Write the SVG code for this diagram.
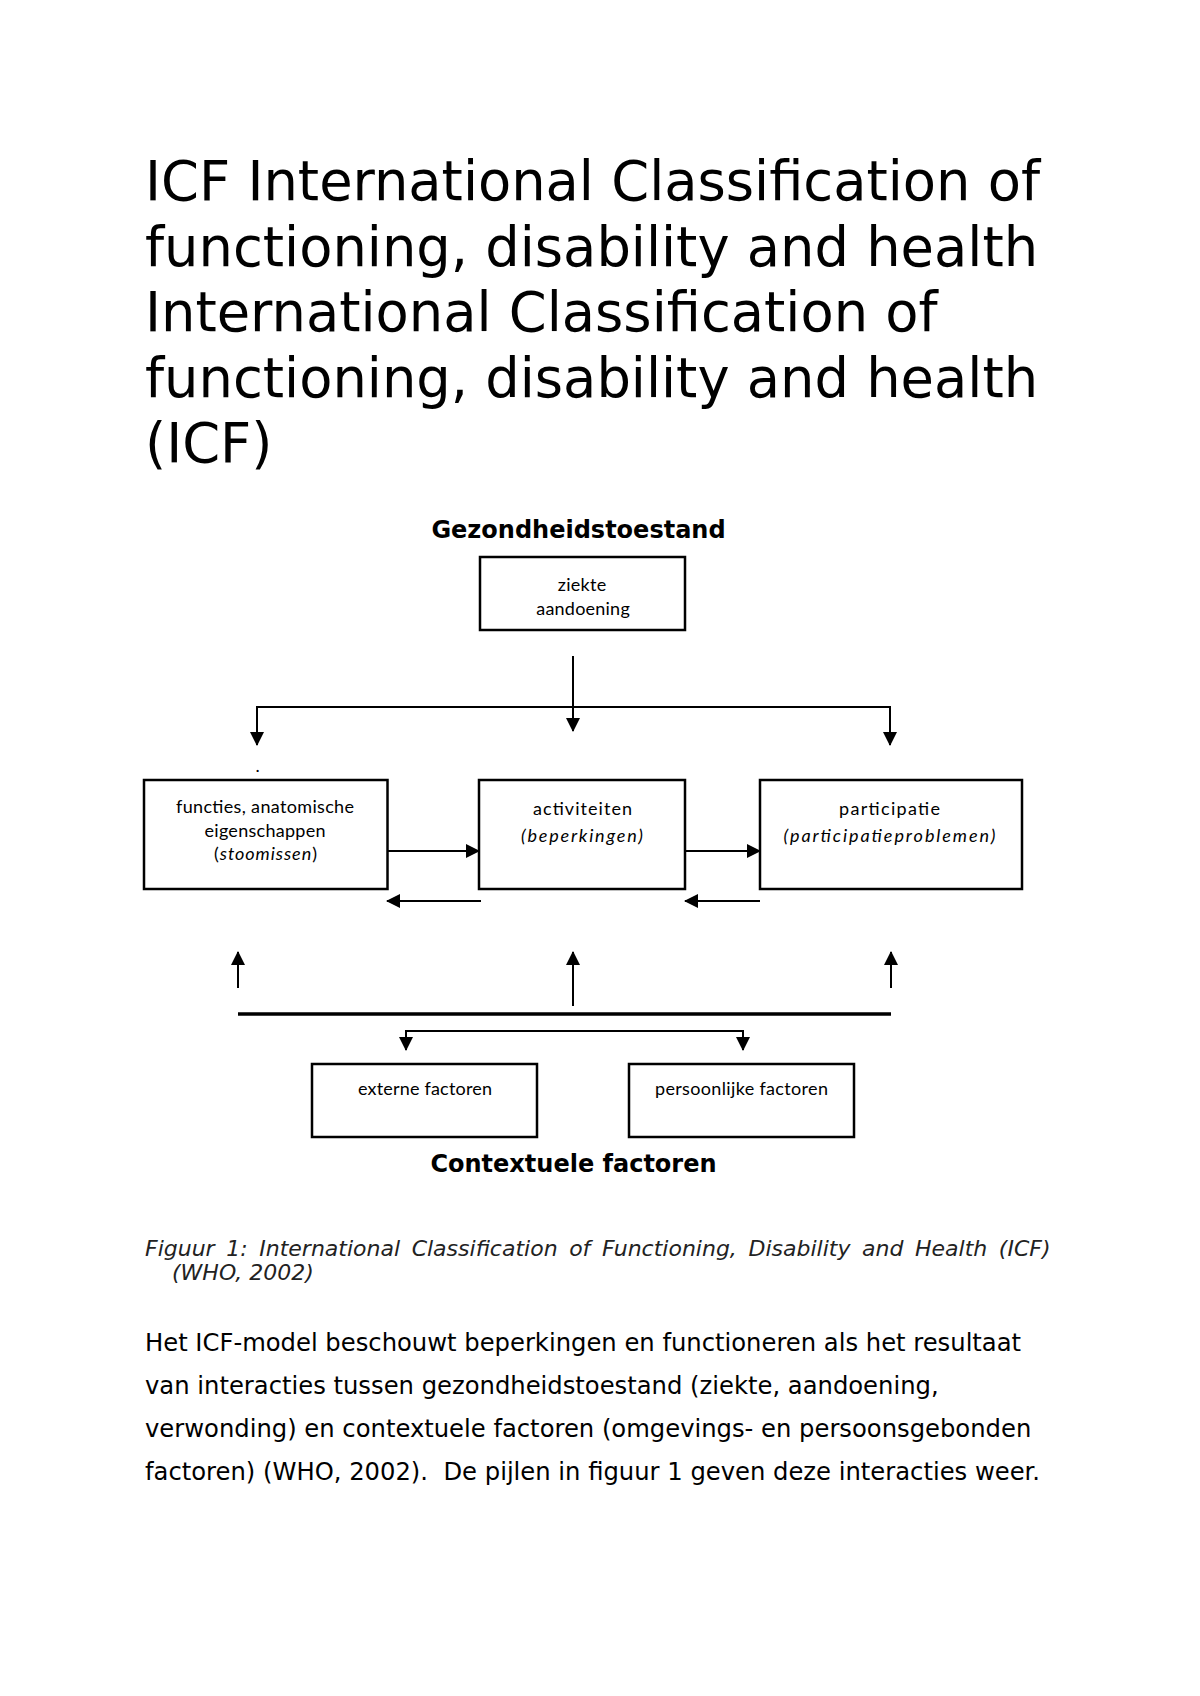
<svg xmlns="http://www.w3.org/2000/svg" width="1200" height="1696" viewBox="0 0 1200 1696">
<style>
.title{font-family:"DejaVu Sans",sans-serif;font-size:54.3px;fill:#000}
.head{font-family:"DejaVu Sans",sans-serif;font-weight:bold;font-size:24px;fill:#000;text-anchor:middle}
.box{fill:#fff;stroke:#000;stroke-width:2.5}
.lbl{font-family:Lato,"Liberation Sans",sans-serif;font-size:18px;fill:#000;text-anchor:middle}
.it{font-style:italic}
.ln{stroke:#000;stroke-width:2;fill:none}
.cap{font-family:"DejaVu Sans",sans-serif;font-style:italic;font-weight:200;font-size:22px;fill:#222}
.body{font-family:"DejaVu Sans",sans-serif;font-size:24.25px;fill:#000}
</style>
<defs>
<marker id="ah" viewBox="0 0 14 14" markerWidth="14" markerHeight="14" refX="13" refY="7" orient="auto" markerUnits="userSpaceOnUse">
<path d="M0,0 L14,7 L0,14 z" fill="#000"/>
</marker>
</defs>
<rect width="1200" height="1696" fill="#fff"/>
<g id="title">
<text class="title" x="145" y="200">ICF International Classification of</text>
<text class="title" x="145" y="265.5">functioning, disability and health</text>
<text class="title" x="145" y="331">International Classification of</text>
<text class="title" x="145" y="396.5">functioning, disability and health</text>
<text class="title" x="145" y="462">(ICF)</text>
</g>
<text class="head" x="578.5" y="537.5">Gezondheidstoestand</text>
<g id="connectors">
<line class="ln" x1="573" y1="656" x2="573" y2="731" marker-end="url(#ah)"/>
<line class="ln" x1="256" y1="707" x2="891" y2="707"/>
<line class="ln" x1="257" y1="707" x2="257" y2="745" marker-end="url(#ah)"/>
<line class="ln" x1="890" y1="707" x2="890" y2="745" marker-end="url(#ah)"/>
<line class="ln" x1="387" y1="851" x2="479" y2="851" marker-end="url(#ah)"/>
<line class="ln" x1="685" y1="851" x2="760" y2="851" marker-end="url(#ah)"/>
<line class="ln" x1="481" y1="901" x2="387" y2="901" marker-end="url(#ah)"/>
<line class="ln" x1="760" y1="901" x2="685" y2="901" marker-end="url(#ah)"/>
<line class="ln" x1="238" y1="988" x2="238" y2="952" marker-end="url(#ah)"/>
<line class="ln" x1="573" y1="1006" x2="573" y2="952" marker-end="url(#ah)"/>
<line class="ln" x1="891" y1="988" x2="891" y2="952" marker-end="url(#ah)"/>
<line x1="238" y1="1014" x2="891" y2="1014" stroke="#000" stroke-width="3.5"/>
<line class="ln" x1="405" y1="1031" x2="744" y2="1031"/>
<line class="ln" x1="406" y1="1031" x2="406" y2="1050" marker-end="url(#ah)"/>
<line class="ln" x1="743" y1="1031" x2="743" y2="1050" marker-end="url(#ah)"/>
</g>
<text class="lbl" x="257.5" y="772" font-size="14">.</text>
<g id="ziekte">
<rect class="box" x="480" y="557" width="205" height="73"/>
<text class="lbl" x="582" y="591" textLength="48.5">ziekte</text>
<text class="lbl" x="583" y="615" textLength="93.5">aandoening</text>
</g>
<g id="functies">
<rect class="box" x="144" y="780" width="243.5" height="109"/>
<text class="lbl" x="265" y="813" textLength="178">functies, anatomische</text>
<text class="lbl" x="265" y="837" textLength="121">eigenschappen</text>
<text class="lbl" x="265.5" y="860" textLength="103">(<tspan class="it">stoomissen</tspan>)</text>
</g>
<g id="activiteiten">
<rect class="box" x="479" y="780" width="206" height="109"/>
<text class="lbl" x="582.5" y="815" textLength="99">activiteiten</text>
<text class="lbl it" x="582" y="842" textLength="122">(beperkingen)</text>
</g>
<g id="participatie">
<rect class="box" x="760" y="780" width="262" height="109"/>
<text class="lbl" x="889.5" y="815" textLength="101">participatie</text>
<text class="lbl it" x="889.5" y="842" textLength="212">(participatieproblemen)</text>
</g>
<g id="externe">
<rect class="box" x="312" y="1064" width="225" height="73"/>
<text class="lbl" x="425" y="1095" textLength="134">externe factoren</text>
</g>
<g id="persoonlijke">
<rect class="box" x="629" y="1064" width="225" height="73"/>
<text class="lbl" x="741.5" y="1095" textLength="173">persoonlijke factoren</text>
</g>
<text class="head" x="573.5" y="1172">Contextuele factoren</text>
<g id="caption">
<text class="cap" x="145" y="1256" word-spacing="4.6">Figuur 1: International Classification of Functioning, Disability and Health (ICF)</text>
<text class="cap" x="172" y="1280">(WHO, 2002)</text>
</g>
<g id="paragraph">
<text class="body" x="145" y="1351">Het ICF-model beschouwt beperkingen en functioneren als het resultaat</text>
<text class="body" x="145" y="1394">van interacties tussen gezondheidstoestand (ziekte, aandoening,</text>
<text class="body" x="145" y="1437">verwonding) en contextuele factoren (omgevings- en persoonsgebonden</text>
<text class="body" x="145" y="1480" xml:space="preserve">factoren) (WHO, 2002).  De pijlen in figuur 1 geven deze interacties weer.</text>
</g>
</svg>
